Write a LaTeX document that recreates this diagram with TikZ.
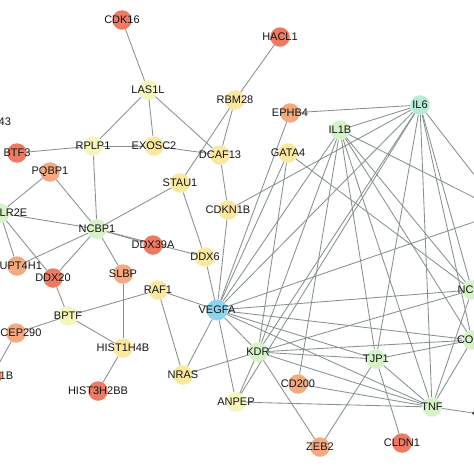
\documentclass[tikz,border=0pt]{standalone}
\usepackage{fontspec}
\setmainfont{Liberation Sans}
\pgfdeclarelayer{bg}
\pgfsetlayers{bg,main}
\definecolor{cR}{HTML}{EE7A63}
\definecolor{cO}{HTML}{F5A97F}
\definecolor{cY}{HTML}{FAE89F}
\definecolor{cP}{HTML}{F6F6BC}
\definecolor{cG}{HTML}{D6F3C8}
\definecolor{cM}{HTML}{B6ECD6}
\definecolor{cB}{HTML}{8DD5EE}
\definecolor{edgegray}{HTML}{879191}
\definecolor{labcol}{HTML}{151515}
\begin{document}
\begin{tikzpicture}[x=1pt,y=-1pt,
  gn/.style={circle,minimum size=19.5pt,inner sep=0pt,draw=none},
  lab/.style={font=\fontsize{11}{12}\selectfont,text=labcol,inner sep=0pt},
  ed/.style={draw=edgegray,line width=0.85pt}]
\useasboundingbox (0,0) rectangle (474,474);
% nodes
\node[gn,fill=cR,label={[lab]center:CDK16}] (cdk16) at (122,20) {};
\node[gn,fill=cR,label={[lab]center:HACL1}] (hacl1) at (280,37) {};
\node[gn,fill=cP,label={[lab]center:LAS1L}] (las1l) at (148,90) {};
\node[gn,fill=cY,label={[lab]center:RBM28}] (rbm28) at (235,100) {};
\node[gn,fill=cP,label={[lab]center:RPLP1}] (rplp1) at (93,146) {};
\node[gn,fill=cY,label={[lab]center:EXOSC2}] (exosc2) at (154,146) {};
\node[gn,fill=cY,label={[lab]center:DCAF13}] (dcaf13) at (220,155) {};
\node[gn,fill=cR,label={[lab]center:BTF3}] (btf3) at (17,153) {};
\node[gn,fill=cO,label={[lab]center:PQBP1}] (pqbp1) at (50,172) {};
\node[gn,fill=cY,label={[lab]center:STAU1}] (stau1) at (180,183) {};
\node[gn,fill=cY,label={[lab]center:CDKN1B}] (cdkn1b) at (228,210) {};
\node[gn,fill=cG] (polr2e) at (0,213) {};
\node[gn,fill=cG,label={[lab]center:NCBP1}] (ncbp1) at (97,229) {};
\node[gn,fill=cR,label={[lab]center:DDX39A}] (ddx39a) at (153,245) {};
\node[gn,fill=cY,label={[lab]center:DDX6}] (ddx6) at (205,257) {};
\node[gn,fill=cO] (supt4h1) at (17,266) {};
\node[gn,fill=cR,label={[lab]center:DDX20}] (ddx20) at (53,278) {};
\node[gn,fill=cO,label={[lab]center:SLBP}] (slbp) at (123,274) {};
\node[gn,fill=cY,label={[lab]center:RAF1}] (raf1) at (158,290) {};
\node[gn,fill=cB,minimum size=21pt,label={[lab]center:VEGFA}] (vegfa) at (217,310) {};
\node[gn,fill=cP,label={[lab]center:BPTF}] (bptf) at (68,316) {};
\node[gn,fill=cO] (cep290) at (16,333) {};
\node[gn,fill=cY,label={[lab]center:HIST1H4B}] (hist1h4b) at (123,348) {};
\node[gn,fill=cR] (x1b) at (-8,376) {};
\node[gn,fill=cY,label={[lab]center:NRAS}] (nras) at (183,375) {};
\node[gn,fill=cR,label={[lab]center:HIST3H2BB}] (hist3h2bb) at (98,391) {};
\node[gn,fill=cP,label={[lab]center:ANPEP}] (anpep) at (236,402) {};
\node[gn,fill=cG,label={[lab]center:KDR}] (kdr) at (258,352) {};
\node[gn,fill=cO,label={[lab]center:CD200}] (cd200) at (298,384) {};
\node[gn,fill=cG,label={[lab]center:TJP1}] (tjp1) at (376,359) {};
\node[gn,fill=cG,label={[lab]center:TNF}] (tnf) at (432,407) {};
\node[gn,fill=cO,label={[lab]center:ZEB2}] (zeb2) at (320,447) {};
\node[gn,fill=cR,label={[lab]center:CLDN1}] (cldn1) at (402,443) {};
\node[gn,fill=cG] (nc) at (472,290) {};
\node[gn,fill=cG] (co) at (472,340) {};
\node[circle,fill=black!70,minimum size=3.5pt,inner sep=0pt] (dotn) at (473.5,413) {};
\node[gn,fill=cM,label={[lab]center:IL6}] (il6) at (420,105) {};
\node[gn,fill=cO,label={[lab]center:EPHB4}] (ephb4) at (290,113) {};
\node[gn,fill=cG,label={[lab]center:IL1B}] (il1b) at (340,130) {};
\node[gn,fill=cY,label={[lab]center:GATA4}] (gata4) at (288,153) {};
\coordinate (offn) at (503,212);
% labels at the picture's edges
\node[lab,anchor=west] (l43) at (-1.5,122) {43};
\node[lab,anchor=west] (lpolr) at (-0.5,213) {LR2E};
\node[lab,anchor=west] (lsupt) at (-0.5,266) {UPT4H1};
\node[lab,anchor=west] (lcep) at (0.3,333) {CEP290};
\node[lab,anchor=west] (l1b) at (-0.5,376) {1B};
\node[lab,anchor=east] (lnc) at (473.7,290) {NC};
\node[lab,anchor=east] (lco) at (473.7,340) {CO};
% edges
\begin{pgfonlayer}{bg}
\fill[white] (0,0) rectangle (474,474);
\foreach \a/\b in {cdk16/las1l,las1l/rplp1,las1l/exosc2,las1l/dcaf13,rplp1/exosc2,
  exosc2/dcaf13,btf3/rplp1,rplp1/ncbp1,rbm28/dcaf13,rbm28/stau1,hacl1/rbm28,
  dcaf13/cdkn1b,cdkn1b/vegfa,cdkn1b/il6,pqbp1/polr2e,pqbp1/ncbp1,polr2e/ncbp1,
  polr2e/supt4h1,polr2e/ddx20,stau1/ncbp1,stau1/ddx6,ncbp1/ddx39a,ncbp1/ddx6,
  ncbp1/supt4h1,ncbp1/ddx20,ncbp1/slbp,ddx6/vegfa,ddx20/bptf,bptf/raf1,bptf/cep290,
  bptf/hist1h4b,slbp/hist1h4b,hist1h4b/hist3h2bb,cep290/x1b,raf1/vegfa,raf1/nras,
  nras/vegfa,nras/kdr,
  vegfa/anpep,vegfa/kdr,vegfa/ephb4,vegfa/gata4,vegfa/il1b,vegfa/il6,vegfa/tjp1,
  vegfa/tnf,vegfa/nc,vegfa/co,vegfa/offn,
  kdr/anpep,kdr/zeb2,kdr/tjp1,kdr/tnf,kdr/nc,kdr/co,kdr/il1b,kdr/il6,kdr/gata4,
  anpep/tnf,anpep/il6,cd200/tnf,cd200/il1b,
  tjp1/il1b,tjp1/il6,tjp1/tnf,tjp1/co,tjp1/zeb2,tjp1/cldn1,
  tnf/il6,tnf/il1b,tnf/nc,tnf/co,tnf/dotn,
  il6/ephb4,il6/il1b,il6/offn,il6/nc,il6/co,
  il1b/offn,il1b/nc,il1b/co,gata4/nc}
  \draw[ed] (\a) -- (\b);
\end{pgfonlayer}
\end{tikzpicture}
\end{document}
